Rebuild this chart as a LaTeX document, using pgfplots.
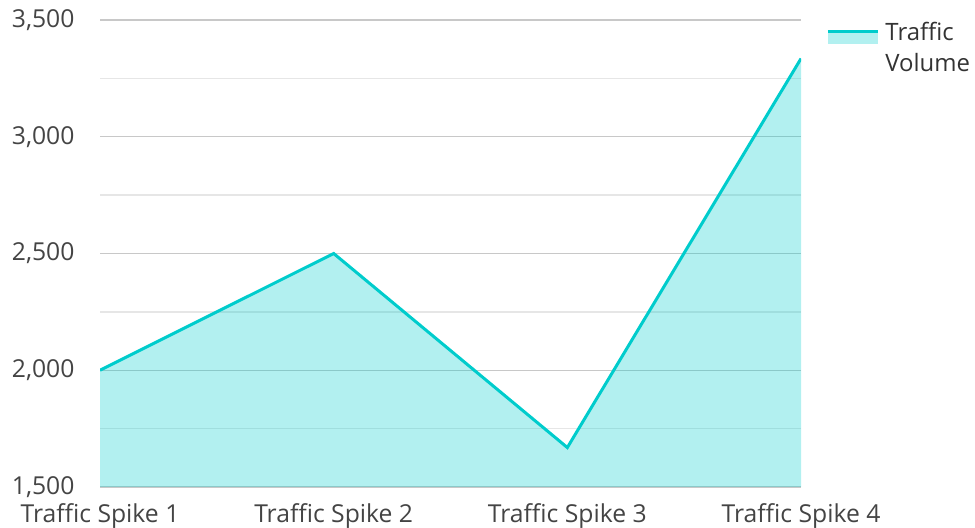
\documentclass[border=0pt]{standalone}
\usepackage{pgfplots}
\pgfplotsset{compat=1.18}
\usepackage{fontspec}
\setmainfont{Open Sans}
\definecolor{teal1}{HTML}{00CCCC}
\definecolor{ticktext}{HTML}{444444}
\definecolor{legtext}{HTML}{333333}
\definecolor{majgrid}{HTML}{C8C8C8}
\definecolor{mingrid}{HTML}{E6E6E6}
\begin{document}
\begin{tikzpicture}
\path[use as bounding box] (0,0) rectangle (975bp,528bp);
\begin{axis}[
  at={(100bp,41bp)}, anchor=south west,
  scale only axis, width=701bp, height=467bp,
  xmin=0, xmax=3, ymin=1500, ymax=3500,
  xtick={0,1,2,3},
  xticklabels={Traffic Spike 1,Traffic Spike 2,Traffic Spike 3,Traffic Spike 4},
  ytick={1500,2000,2500,3000,3500},
  minor ytick={1750,2250,2750,3250},
  ymajorgrids, yminorgrids,
  major grid style={majgrid, line width=1.3bp},
  minor grid style={mingrid, line width=1.3bp},
  axis line style={draw=none},
  major tick length=0pt, minor tick length=0pt,
  tick style={draw=none},
  ticklabel style={font=\fontsize{24.8}{29}\selectfont, text=ticktext},
  /pgf/number format/assume math mode=true,
  /pgf/number format/1000 sep={,},
  yticklabel style={xshift=-22bp},
  xticklabel style={yshift=-13bp},
  legend style={at={(rel axis cs:1.0357,1.0)}, anchor=north west, draw=none, fill=none,
    font=\fontsize{24}{31}\selectfont, text=legtext,
    cells={align=left}, inner sep=0pt, row sep=0pt},
  legend cell align=left,
  legend image code/.code={
    \path[draw=none, fill=teal1, fill opacity=0.3] (0bp,4bp) rectangle (50bp,16bp);
    \draw[teal1, line width=3.5bp] (0bp,16bp) -- (50bp,16bp);
    \path (54bp,16bp);
  },
]
\addplot[draw=none, fill=teal1, fill opacity=0.3, forget plot]
  coordinates {(0,2000) (1,2500) (2,1669) (3,3335)} \closedcycle;
\addplot[draw=teal1, line width=3bp]
  coordinates {(0,2000) (1,2500) (2,1669) (3,3335)};
\addlegendentry{Traffic\\Volume}
\end{axis}
\end{tikzpicture}
\end{document}
